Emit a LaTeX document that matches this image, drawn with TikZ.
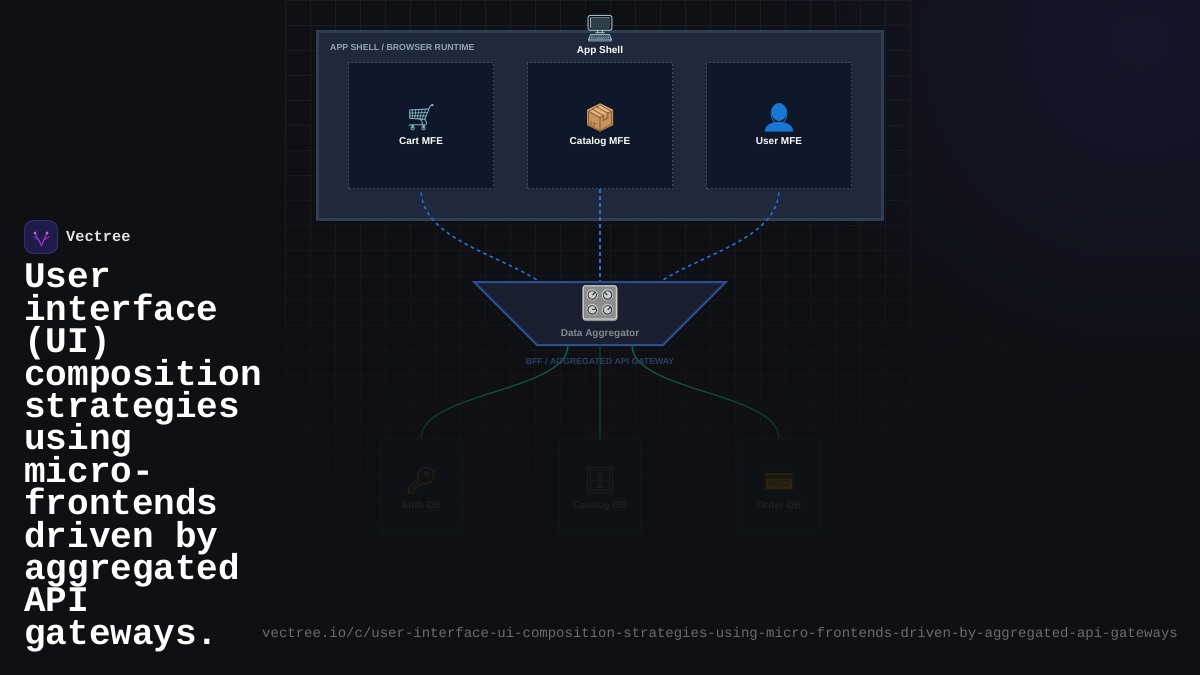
\documentclass[tikz,border=0pt]{standalone}
\usepackage{fontspec}
\usepackage{xcolor}
\usetikzlibrary{fadings}
\setmainfont{Liberation Sans}
\setmonofont{Liberation Mono}
\newfontfamily\emojifont{Noto Emoji}
\lineskip=0pt
\lineskiplimit=-100pt
\definecolor{basecolor}{HTML}{0F1014}
\definecolor{glowcolor}{HTML}{14162A}
\definecolor{gridcolor}{HTML}{181D28}
\definecolor{shellfill}{HTML}{1E293B}
\definecolor{shellline}{HTML}{2F3E52}
\definecolor{shellgray}{HTML}{94A3B8}
\definecolor{mfefill}{HTML}{0F172A}
\definecolor{mfeline}{HTML}{3F4C60}
\definecolor{busblue}{HTML}{2E6BD6}
\definecolor{gatefill}{HTML}{1A2030}
\definecolor{gateline}{HTML}{2A4F94}
\definecolor{gatetext}{HTML}{85888E}
\definecolor{bfftext}{HTML}{2B3F63}
\definecolor{storegreen}{HTML}{13694A}
\definecolor{storedim}{HTML}{10302C}
\definecolor{dbfill}{HTML}{0E1116}
\definecolor{dbline}{HTML}{0F1A1C}
\definecolor{dbtext}{HTML}{1D1F25}
\definecolor{shelliconc}{HTML}{A9CBD8}
\definecolor{screendark}{HTML}{2B3F4A}
\definecolor{carticonc}{HTML}{7FB2BE}
\definecolor{boxtan}{HTML}{C6935C}
\definecolor{boxlight}{HTML}{E3B587}
\definecolor{boxiconc}{HTML}{8A5F33}
\definecolor{usericonc}{HTML}{1976D2}
\definecolor{knobpanel}{HTML}{8C8C8C}
\definecolor{knobdark}{HTML}{1F2B30}
\definecolor{knobicon}{HTML}{C8CCCC}
\definecolor{keyicon}{HTML}{2C2310}
\definecolor{cardshade}{HTML}{191710}
\definecolor{logofill}{HTML}{1F1B4B}
\definecolor{logoline}{HTML}{352E6E}
\definecolor{logoviolet}{HTML}{9A35C8}
\definecolor{logopink}{HTML}{CF62D8}
\definecolor{brandtext}{HTML}{E2E2E6}
\definecolor{urltext}{HTML}{6B6C72}
\tikzfading[name=fadedown, top color=transparent!0, bottom color=transparent!70]
\tikzfading[name=griddown, top color=transparent!0, bottom color=transparent!100]
\tikzset{
  gridline/.style={gridcolor, line width=0.8pt, path fading=griddown},
  shellbox/.style={draw=shellline, fill=shellfill, line width=3pt, minimum width=565pt, minimum height=188pt},
  mfebox/.style={draw=mfeline, fill=mfefill, dash pattern=on 2pt off 2pt, line width=1pt, minimum width=145pt, minimum height=126pt},
  dbbox/.style={draw=dbline, fill=dbfill, line width=1pt, rounded corners=2pt, minimum width=82pt, minimum height=94pt},
  iconmark/.style={font=\emojifont\fontsize{26}{26}\selectfont, inner sep=0pt},
  tagtext/.style={font=\bfseries\fontsize{10}{12}\selectfont, text=white, inner sep=0pt, anchor=base},
  smalltag/.style={inner sep=0pt, font=\bfseries\fontsize{8.75}{11}\selectfont},
  bffline/.style={busblue, line width=1.5pt, dash pattern=on 3.5pt off 3.5pt},
  curveline/.style={bffline, dash phase=3.5pt},
  storeline/.style={storegreen, line width=1.3pt, path fading=fadedown}
}
\begin{document}
\begin{tikzpicture}[x=1pt,y=-1pt]
  \useasboundingbox (0,0) rectangle (1200,675);
  \fill[basecolor] (0,0) rectangle (1200,675);
  \shade[inner color=glowcolor, outer color=basecolor] (1140,40) circle (370);
  % grid behind the diagram
  \draw[gridline] \foreach \gx in {286,311,...,911} { (\gx,0) -- (\gx,620) }
    \foreach \gy in {0,25,...,600} { (286,\gy) -- (911,\gy) };

  % app shell
  \node[shellbox] (shell) at (600,125.5) {};
  \node[smalltag, anchor=base west, text=shellgray] (shelltag) at (330,50) {APP SHELL / BROWSER RUNTIME};
  \node[mfebox] (cartmfe) at (421,125.5) {};
  \node[mfebox] (catalogmfe) at (600,125.5) {};
  \node[mfebox] (usermfe) at (779,125.5) {};
  \node[iconmark, text=shelliconc] (shellicon) at (600,29) {🖥};
  \fill[screendark] (590.5,18) rectangle (609.5,27.5);
  \node[tagtext] (shelllabel) at (600,53.3) {App Shell};
  \node[iconmark, text=carticonc] (carticon) at (421,118) {🛒};
  \node[tagtext] (cartlabel) at (421,144) {Cart MFE};
  \fill[boxtan] (600,103.5) -- (613,110) -- (613,125) -- (600,131.5) -- (587,125) -- (587,110) -- cycle;
  \fill[boxlight] (600,103.5) -- (613,110) -- (600,116.5) -- (587,110) -- cycle;
  \node[iconmark, text=boxiconc] (catalogicon) at (600,118) {📦};
  \node[tagtext] (cataloglabel) at (600,144) {Catalog MFE};
  \fill[usericonc] (779,112) ellipse (7.5 and 9);
  \fill[usericonc] (765,131.5) .. controls (765,124) and (772,122) .. (779,122) .. controls (786,122) and (793,124) .. (793,131.5) -- cycle;
  \node[iconmark, text=usericonc] (usericon) at (779,118) {👤};
  \node[tagtext] (userlabel) at (779,144) {User MFE};

  % gateway
  \coordinate (gatein) at (600,330);
  \coordinate (gateleft) at (572,330);
  \coordinate (gateright) at (628,330);
  \coordinate (gatetl) at (474,282);
  \coordinate (gatetr) at (726,282);
  \coordinate (gatebr) at (663,345);
  \coordinate (gatebl) at (537,345);
  \coordinate (gateout) at (600,345);
  \draw[curveline] (cartmfe.south) .. controls (421,259) and (572,259) .. (gateleft);
  \draw[bffline] (catalogmfe.south) -- (gatein);
  \draw[curveline] (usermfe.south) .. controls (779,259) and (628,259) .. (gateright);
  \draw[draw=gateline, fill=gatefill, line width=2pt] (gatetl) -- (gatetr) -- (gatebr) -- (gatebl) -- cycle;
  \fill[knobpanel, rounded corners=3pt] (582.5,286) rectangle (617.5,321);
  \foreach \kx/\ky in {592/295.5,608/295.5,592/310.5,608/310.5} {
    \fill[knobdark] (\kx,\ky) circle (5.2);
  }
  \node[iconmark, text=knobicon, font=\emojifont\fontsize{34}{34}\selectfont] (gateicon) at (600,303) {🎛};
  \node[tagtext, text=gatetext] (gatelabel) at (600,336) {Data Aggregator};

  % stores
  \node[dbbox] (authdb) at (421,486) {};
  \node[dbbox] (catalogdb) at (600,486) {};
  \node[dbbox] (orderdb) at (779,486) {};
  \coordinate (gateoutleft) at (568,345);
  \coordinate (gateoutright) at (632,345);
  \draw[storeline] (gateoutleft) .. controls (568,392) and (421,392) .. (authdb.north);
  \draw[storedim, line width=1.3pt] (gateout) -- (catalogdb.north);
  \draw[storeline] (gateoutright) .. controls (632,392) and (779,392) .. (orderdb.north);
  \node[smalltag, anchor=base, text=bfftext] (bfftag) at (600,364.3) {BFF / AGGREGATED API GATEWAY};
  \node[iconmark, text=keyicon] (authicon) at (421,481) {🔑};
  \node[tagtext, text=dbtext] (authlabel) at (421,508.3) {Auth DB};
  \node[iconmark, text=dbtext] (catalogdbicon) at (600,481) {🗄};
  \node[tagtext, text=dbtext] (catalogdblabel) at (600,508.3) {Catalog DB};
  \fill[keyicon] (765,473) rectangle (793,490);
  \node[iconmark, text=cardshade] (ordericon) at (779,481) {💳};
  \node[tagtext, text=dbtext] (orderlabel) at (779,508.3) {Order DB};

  % brand and title
  \node[draw=logoline, fill=logofill, line width=1pt, rounded corners=9pt, minimum size=33pt, inner sep=0pt] (logo) at (41,237) {};
  \draw[logoviolet, line width=1.2pt] (41.5,246) .. controls (40,241) and (37,238) .. (35,233);
  \draw[logoviolet, line width=1.2pt] (41.5,246) .. controls (43,241) and (45,238) .. (47,233);
  \draw[logoviolet, line width=0.8pt] (38.5,240) -- (33.5,236.5) (44.5,240) -- (49.5,236.5);
  \fill[logopink] (35,233) circle (1.7) (47,233) circle (1.7);
  \node[anchor=west, inner sep=0pt, font=\ttfamily\bfseries\fontsize{15.3}{18}\selectfont, text=brandtext] (brand) at (66,236.5) {Vectree};
  \node[anchor=north west, align=left, inner sep=0pt, text=white, font=\ttfamily\bfseries\fontsize{36}{32.4}\selectfont] (headline) at (24,264) {User\\interface\\(UI)\\composition\\strategies\\using\\micro-\\frontends\\driven by\\aggregated\\API\\gateways.};
  \node[anchor=west, inner sep=0pt, text=urltext, font=\ttfamily\fontsize{14}{16}\selectfont] (urlline) at (262,633.5) {vectree.io/c/user-interface-ui-composition-strategies-using-micro-frontends-driven-by-aggregated-api-gateways};
\end{tikzpicture}
\end{document}
